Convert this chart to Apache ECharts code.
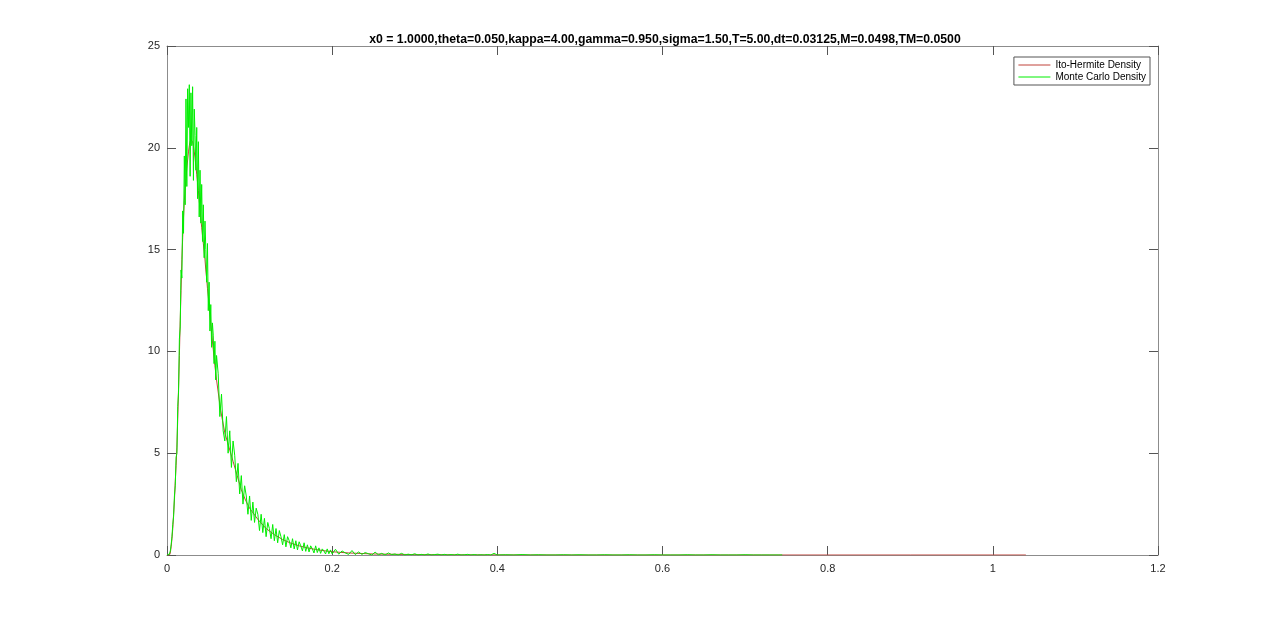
<!DOCTYPE html>
<html>
<head>
<meta charset="utf-8">
<script src="https://cdn.jsdelivr.net/npm/echarts@6/dist/echarts.min.js"></script>
<style>
html,body{margin:0;padding:0;background:#fff;}
#chart{width:1280px;height:624px;}
</style>
</head>
<body>
<div id="chart"></div>
<script>
// ---- data ----
const titleText = 'x0 = 1.0000,theta=0.050,kappa=4.00,gamma=0.950,sigma=1.50,T=5.00,dt=0.03125,M=0.0498,TM=0.0500';
const seriesNames = ['Ito-Hermite Density', 'Monte Carlo Density'];
const xTicks = [0, 0.2, 0.4, 0.6, 0.8, 1, 1.2];
const yTicks = [0, 5, 10, 15, 20, 25];

// Ito-Hermite (smooth) density
const hermiteX = [
  0,0.001,0.002,0.003,0.004,0.005,0.006,0.007,0.008,0.009,
  0.010,0.011,0.012,0.013,0.014,0.015,0.016,0.017,0.018,0.019,
  0.020,0.021,0.022,0.023,0.024,0.025,0.026,0.027,0.028,0.029,
  0.030,0.031,0.032,0.033,0.034,0.035,0.036,0.037,0.038,0.039,
  0.040,0.041,0.042,0.043,0.044,0.045,0.046,0.047,0.048,0.049,
  0.050,0.052,0.054,0.056,0.058,0.060,0.065,0.070,0.075,0.080,
  0.085,0.090,0.095,0.100,0.110,0.120,0.130,0.140,0.150,0.160,
  0.170,0.180,0.190,0.200,0.220,0.250,0.300,0.350,0.400,0.500,
  0.600,0.700,0.800,0.900,1.000,1.040
];
const hermiteY = [
  0,0,0,0,0.1,0.4,0.8,1.3,2.0,2.7,
  3.6,4.4,5.3,6.7,8.2,9.8,11.5,13.0,14.5,15.6,
  16.6,17.4,18.0,18.5,19.0,19.4,19.8,20.1,20.3,20.4,
  20.4,20.3,20.1,19.8,19.5,19.1,18.7,18.3,17.9,17.4,
  17.0,16.5,16.1,15.7,15.3,14.9,14.5,14.0,13.6,13.1,
  12.7,11.8,10.9,10.1,9.3,8.6,7.1,6.0,5.3,4.6,
  3.9,3.2,2.7,2.3,1.75,1.3,1.0,0.76,0.58,0.45,
  0.35,0.27,0.21,0.16,0.10,0.05,0.02,0.01,0.005,0,
  0,0,0,0,0,0
];

// Monte Carlo (histogram) density, in four pieces
const mcXPeak = [
  0,0.001,0.002,0.003,0.004,0.005,0.006,0.007,0.008,0.009,
  0.010,0.011,0.012,0.013,0.014,0.015,0.016,0.017,0.018,0.019,
  0.020,0.021,0.022,0.023,0.024,0.025,0.026,0.027,0.028,0.029,
  0.030,0.031,0.032,0.033,0.034,0.035,0.036,0.037,0.038,0.039,
  0.040,0.041,0.042,0.043,0.044,0.045,0.046,0.047,0.048,0.049,
  0.050,0.051,0.052,0.053,0.054,0.055,0.056,0.057,0.058,0.059,
  0.060
];
const mcYPeak = [
  0,0,0,0.05,0.2,0.5,0.9,1.5,1.9,2.9,
  3.4,4.8,5.0,7.3,8.0,10.6,11.2,14.0,13.6,16.9,
  15.8,19.6,17.2,22.4,18.1,22.9,21.0,23.1,18.6,22.7,
  20.1,23.0,18.4,21.9,20.6,18.9,21.0,17.5,20.3,16.6,
  18.9,16.3,18.2,15.4,17.2,14.6,16.4,15.0,13.4,15.3,
  12.0,13.4,11.0,12.3,10.2,11.4,10.8,9.4,10.5,8.6,
  9.8
];
const mcXDecay = [
  0.062,0.064,0.066,0.068,0.070,0.072,0.074,0.076,0.078,0.080,
  0.082,0.084,0.086,0.088,0.090,0.092,0.094,0.096,0.098,0.100,
  0.102,0.104,0.106,0.108,0.110,0.112,0.114,0.116,0.118,0.120,
  0.122,0.124,0.126,0.128,0.130,0.132,0.134,0.136,0.138,0.140,
  0.142,0.144,0.146,0.148,0.150,0.152,0.154,0.156,0.158,0.160,
  0.162,0.164,0.166,0.168,0.170,0.172,0.174,0.176,0.178,0.180,
  0.182,0.184,0.186,0.188,0.190,0.192,0.194,0.196,0.198,0.200
];
const mcYDecay = [
  8.9,6.8,7.9,6.1,5.6,6.8,5.0,6.1,4.3,5.6,
  4.9,3.6,4.5,3.0,3.9,2.5,3.4,2.9,2.0,2.9,
  1.7,2.6,1.6,2.3,2.0,1.2,2.0,1.1,1.8,0.9,
  1.6,1.3,0.8,1.5,0.7,1.3,0.6,1.2,0.9,0.5,
  1.0,0.4,0.9,0.7,0.35,0.8,0.3,0.7,0.25,0.65,
  0.45,0.2,0.6,0.18,0.5,0.15,0.45,0.3,0.1,0.45,
  0.12,0.35,0.08,0.3,0.2,0.05,0.3,0.06,0.25,0.05
];
const mcXTail = [
  0.204,0.208,0.212,0.216,0.220,0.224,0.228,0.232,0.236,0.240,
  0.244,0.248,0.252,0.256,0.260,0.264,0.268,0.272,0.276,0.280,
  0.284,0.288,0.292,0.296,0.300,0.304,0.308,0.312,0.316,0.320,
  0.324,0.328,0.332,0.336,0.340,0.344,0.348,0.352,0.356,0.360,
  0.364,0.368,0.372,0.376,0.380,0.384,0.388,0.392,0.396,0.400
];
const mcYTail = [
  0.28,0.04,0.2,0.1,0.03,0.22,0.02,0.15,0.03,0.12,
  0.06,0.0,0.14,0.01,0.08,0.0,0.1,0.02,0.05,0.0,
  0.08,0.0,0.04,0.01,0.06,0.0,0.03,0.0,0.05,0.0,
  0.02,0.04,0.0,0.03,0.0,0.02,0.0,0.04,0.0,0.01,
  0.03,0.0,0.02,0.0,0.01,0.0,0.02,0.0,0.08,0.0
];
const mcXFar = [
  0.41,0.42,0.43,0.44,0.45,0.46,0.47,0.48,0.49,0.50,
  0.51,0.52,0.53,0.54,0.55,0.56,0.57,0.58,0.59,0.60,
  0.61,0.62,0.63,0.64,0.65,0.66,0.67,0.68,0.69,0.70,
  0.71,0.72,0.73,0.74,0.745
];
const mcYFar = [
  0.01,0.0,0.02,0.0,0.01,0.0,0.0,0.01,0.0,0.01,
  0.0,0.0,0.01,0.0,0.0,0.01,0.0,0.0,0.01,0.0,
  0.0,0.0,0.01,0.0,0.0,0.01,0.0,0.0,0.0,0.01,
  0.0,0.0,0.0,0.0,0.0
];
const mcX = [...mcXPeak, ...mcXDecay, ...mcXTail, ...mcXFar];
const mcY = [...mcYPeak, ...mcYDecay, ...mcYTail, ...mcYFar];

// ---- chart ----
const pairs = (xs, ys) => xs.map((x, i) => [x, ys[i]]);
const axisGray = '#8c8c8c';
const labelColor = '#262626';
const fontFam = '"Liberation Sans", Arial, Helvetica, sans-serif';
const redColor = '#c0433b';
const greenColor = '#00ee00';

function makeAxis(pos, isX, showLabel) {
  return {
    type: 'value',
    position: pos,
    min: isX ? xTicks[0] : yTicks[0],
    max: isX ? xTicks[xTicks.length - 1] : yTicks[yTicks.length - 1],
    interval: isX ? 0.2 : 5,
    axisLine: { show: true, onZero: false, lineStyle: { color: axisGray, width: 1 } },
    axisTick: { show: true, inside: true, length: 9, lineStyle: { color: '#555', width: 1 } },
    axisLabel: {
      show: showLabel, color: labelColor, fontSize: 11, fontFamily: fontFam,
      margin: isX ? 8 : 7
    },
    splitLine: { show: false }
  };
}

const chart = echarts.init(document.getElementById('chart'), null, { renderer: 'canvas' });
chart.setOption({
  animation: false,
  backgroundColor: '#ffffff',
  title: {
    text: titleText,
    left: 660,
    textAlign: 'center',
    top: 29,
    textStyle: { fontSize: 12.25, fontWeight: 'bold', color: '#000', fontFamily: fontFam }
  },
  grid: { left: 167, right: 122, top: 46, bottom: 69, containLabel: false },
  xAxis: [makeAxis('bottom', true, true), makeAxis('top', true, false)],
  yAxis: [makeAxis('left', false, true), makeAxis('right', false, false)],
  legend: {
    orient: 'vertical',
    right: 130,
    top: 57,
    padding: [3, 4, 3, 4],
    itemGap: 2,
    itemWidth: 32,
    itemHeight: 11,
    itemStyle: { opacity: 0 },
    lineStyle: { width: 1 },
    backgroundColor: '#fff',
    borderColor: '#555',
    borderWidth: 1,
    borderRadius: 0,
    textStyle: { fontSize: 10, color: '#000', fontFamily: fontFam },
    data: [seriesNames[0], seriesNames[1]]
  },
  series: [
    {
      name: seriesNames[0], type: 'line', xAxisIndex: 0, yAxisIndex: 0,
      data: pairs(hermiteX, hermiteY),
      showSymbol: false, symbol: 'none',
      lineStyle: { color: redColor, width: 1 },
      itemStyle: { color: redColor },
      z: 2
    },
    {
      name: seriesNames[1], type: 'line', xAxisIndex: 0, yAxisIndex: 0,
      data: pairs(mcX, mcY),
      showSymbol: false, symbol: 'none',
      lineStyle: { color: greenColor, width: 1 },
      itemStyle: { color: greenColor },
      z: 3
    }
  ]
});
</script>
</body>
</html>
